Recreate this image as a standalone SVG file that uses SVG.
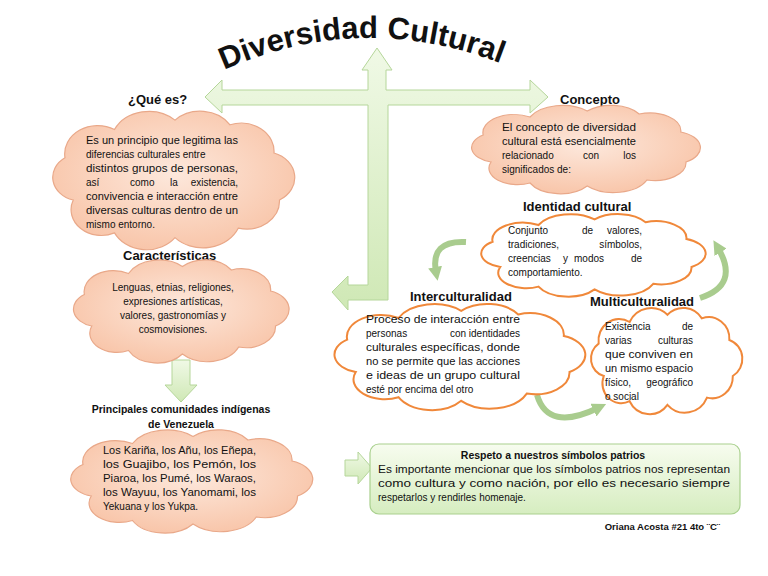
<svg xmlns="http://www.w3.org/2000/svg" width="768" height="576" viewBox="0 0 768 576">
<style>
text{font-family:"Liberation Sans",Arial,sans-serif;fill:#111}
.b{font-size:10px}
.h{font-size:13px;font-weight:bold}
.hs{font-size:10.5px;font-weight:bold}
.cp{fill:url(#pk);stroke:#e9a889;stroke-width:1.2}
.cw{fill:#fff;stroke:#f0883a;stroke-width:2}
.ga{fill:url(#gg);stroke:#b5d69a;stroke-width:1}
.ca{fill:none;stroke:#a9cc8e;stroke-width:6}
</style>
<defs>
<radialGradient id="pk" cx="0.5" cy="0.45" r="0.6"><stop offset="0" stop-color="#fde8dc"/><stop offset="1" stop-color="#f8c3a6"/></radialGradient>
<linearGradient id="gg" x1="0" y1="0" x2="0" y2="1"><stop offset="0" stop-color="#f0f9e6"/><stop offset="1" stop-color="#cfe8b5"/></linearGradient>
<linearGradient id="gb" x1="0" y1="0" x2="0" y2="1"><stop offset="0" stop-color="#f7fcef"/><stop offset="1" stop-color="#d6edc0"/></linearGradient>
<path id="cloud" vector-effect="non-scaling-stroke" d="M15,40 A10,10 0 0 1 12,22 A12,12 0 0 1 30,10 A14,14 0 0 1 52,6 A13,13 0 0 1 72,8 A12,12 0 0 1 88,20 A11,11 0 0 1 90,40 A12,12 0 0 1 75,52 A14,14 0 0 1 52,56 A13,13 0 0 1 30,54 A11,11 0 0 1 15,40 Z"/>
<marker id="ah" markerUnits="userSpaceOnUse" markerWidth="14" markerHeight="14" refX="5" refY="7" orient="auto"><path d="M0,0 L14,7 L0,14 Z" fill="#a9cc8e"/></marker>
<path id="tp" d="M224,70 Q370,5 522,72"/>
</defs>

<text style="font-size:31px;font-weight:bold"><textPath href="#tp">Diversidad Cultural</textPath></text>

<g id="connectors">
<path class="ga" d="M205,97 L222,80 L222,90 L368,90 L368,70 L362,70 L377,48 L392,70 L386,70 L386,90 L530,90 L530,80 L548,97 L530,113 L530,105 L388,105 L388,300 L348,300 L348,310 L332,292 L348,276 L348,285 L368,285 L368,105 L222,105 L222,113 Z"/>
<path class="ga" d="M172,360 L190,360 L190,385 L197,385 L181,402 L165,385 L172,385 Z"/>
<path class="ga" d="M345,460 L358,460 L358,452 L372,468 L358,484 L358,476 L345,476 Z"/>
<path class="ca" marker-end="url(#ah)" d="M466,242 Q430,240 436,272"/>
<path class="ca" marker-end="url(#ah)" d="M700,298 Q740,285 718,248"/>
<path class="ca" marker-end="url(#ah)" d="M537,395 Q548,432 598,408"/>
</g>

<g id="que-es">
<text class="h" x="128" y="104">¿Qué es?</text>
<use href="#cloud" class="cp" transform="translate(32,106) scale(2.75,2.35)"/>
<g class="b">
<text x="86" y="144" textLength="152" lengthAdjust="spacingAndGlyphs">Es un principio que legitima las</text>
<text x="86" y="158">diferencias culturales entre</text>
<text x="86" y="172" textLength="152" lengthAdjust="spacingAndGlyphs">distintos grupos de personas,</text>
<text x="86" y="186">así</text><text x="130" y="186">como</text><text x="170" y="186">la</text><text x="238" y="186" text-anchor="end">existencia,</text>
<text x="86" y="200" textLength="152" lengthAdjust="spacingAndGlyphs">convivencia e interacción entre</text>
<text x="86" y="214" textLength="152" lengthAdjust="spacingAndGlyphs">diversas culturas dentro de un</text>
<text x="86" y="228">mismo entorno.</text>
</g>
</g>

<g id="caracteristicas">
<text class="h" x="123" y="260">Características</text>
<use href="#cloud" class="cp" transform="translate(55,256) scale(2.45,1.75)"/>
<g class="b" text-anchor="middle">
<text x="173" y="291">Lenguas, etnias, religiones,</text>
<text x="173" y="305">expresiones artísticas,</text>
<text x="173" y="319">valores, gastronomías y</text>
<text x="173" y="333">cosmovisiones.</text>
</g>
</g>

<g id="comunidades">
<text class="hs" x="181" y="413" text-anchor="middle">Principales comunidades indígenas</text>
<text class="hs" x="181" y="428" text-anchor="middle">de Venezuela</text>
<use href="#cloud" class="cp" transform="translate(50,426) scale(2.75,1.75)"/>
<g class="b">
<text x="103" y="454" textLength="153" lengthAdjust="spacingAndGlyphs">Los Kariña,  los Añu, los Eñepa,</text>
<text x="103" y="468" textLength="153" lengthAdjust="spacingAndGlyphs">los  Guajibo,  los  Pemón,   los</text>
<text x="103" y="482" textLength="153" lengthAdjust="spacingAndGlyphs">Piaroa,  los  Pumé,  los  Waraos,</text>
<text x="103" y="496" textLength="153" lengthAdjust="spacingAndGlyphs">los  Wayuu,   los  Yanomami,  los</text>
<text x="103" y="510">Yekuana y los Yukpa.</text>
</g>
</g>

<g id="concepto">
<text class="h" x="560" y="104">Concepto</text>
<use href="#cloud" class="cp" transform="translate(452,102) scale(2.6,1.5)"/>
<g class="b">
<text x="502" y="131" textLength="134" lengthAdjust="spacingAndGlyphs">El  concepto  de  diversidad</text>
<text x="502" y="145" textLength="134" lengthAdjust="spacingAndGlyphs">cultural está  esencialmente</text>
<text x="502" y="159">relacionado</text><text x="583" y="159">con</text><text x="636" y="159" text-anchor="end">los</text>
<text x="502" y="173">significados de:</text>
</g>
</g>

<g id="identidad">
<text class="h" x="523" y="211">Identidad cultural</text>
<use href="#cloud" class="cw" transform="translate(462,211) scale(2.55,1.4)"/>
<g class="b">
<text x="508" y="234">Conjunto</text><text x="582" y="234">de</text><text x="642" y="234" text-anchor="end">valores,</text>
<text x="508" y="248">tradiciones,</text><text x="642" y="248" text-anchor="end">símbolos,</text>
<text x="508" y="262">creencias</text><text x="563" y="262">y</text><text x="574" y="262">modos</text><text x="642" y="262" text-anchor="end">de</text>
<text x="508" y="276">comportamiento.</text>
</g>
</g>

<g id="interculturalidad">
<text class="h" x="410" y="301">Interculturalidad</text>
<use href="#cloud" class="cw" transform="translate(313,300) scale(2.85,1.8)"/>
<g class="b">
<text x="366" y="323" textLength="154" lengthAdjust="spacingAndGlyphs">Proceso de interacción entre</text>
<text x="366" y="337">personas</text><text x="520" y="337" text-anchor="end">con identidades</text>
<text x="366" y="351" textLength="154" lengthAdjust="spacingAndGlyphs">culturales específicas, donde</text>
<text x="366" y="365" textLength="154" lengthAdjust="spacingAndGlyphs">no se permite que las acciones</text>
<text x="366" y="379" textLength="154" lengthAdjust="spacingAndGlyphs">e ideas de un grupo cultural</text>
<text x="366" y="393">esté por encima del otro</text>
</g>
</g>

<g id="multiculturalidad">
<text class="h" x="590" y="306">Multiculturalidad</text>
<use href="#cloud" class="cw" transform="translate(578,304) scale(1.72,1.8)"/>
<g class="b">
<text x="605" y="330">Existencia</text><text x="693" y="330" text-anchor="end">de</text>
<text x="605" y="344">varias</text><text x="693" y="344" text-anchor="end">culturas</text>
<text x="605" y="358" textLength="88" lengthAdjust="spacingAndGlyphs">que conviven en</text>
<text x="605" y="372" textLength="88" lengthAdjust="spacingAndGlyphs">un mismo espacio</text>
<text x="605" y="386">físico,</text><text x="693" y="386" text-anchor="end">geográfico</text>
<text x="605" y="400">o social</text>
</g>
</g>

<g id="respeto">
<rect x="370" y="444" width="370" height="70" rx="9" fill="url(#gb)" stroke="#a9d08e" stroke-width="1.2"/>
<text class="hs" x="553" y="459" text-anchor="middle">Respeto a nuestros símbolos patrios</text>
<g class="b">
<text x="378" y="473" textLength="352" lengthAdjust="spacingAndGlyphs">Es importante mencionar que los símbolos patrios nos representan</text>
<text x="378" y="487" textLength="352" lengthAdjust="spacingAndGlyphs">como cultura y como nación,  por ello es necesario siempre</text>
<text x="378" y="501">respetarlos y rendirles homenaje.</text>
</g>
</g>

<text class="hs" x="720" y="530" text-anchor="end" style="font-size:9.5px">Oriana Acosta #21 4to ¨C¨</text>
</svg>
